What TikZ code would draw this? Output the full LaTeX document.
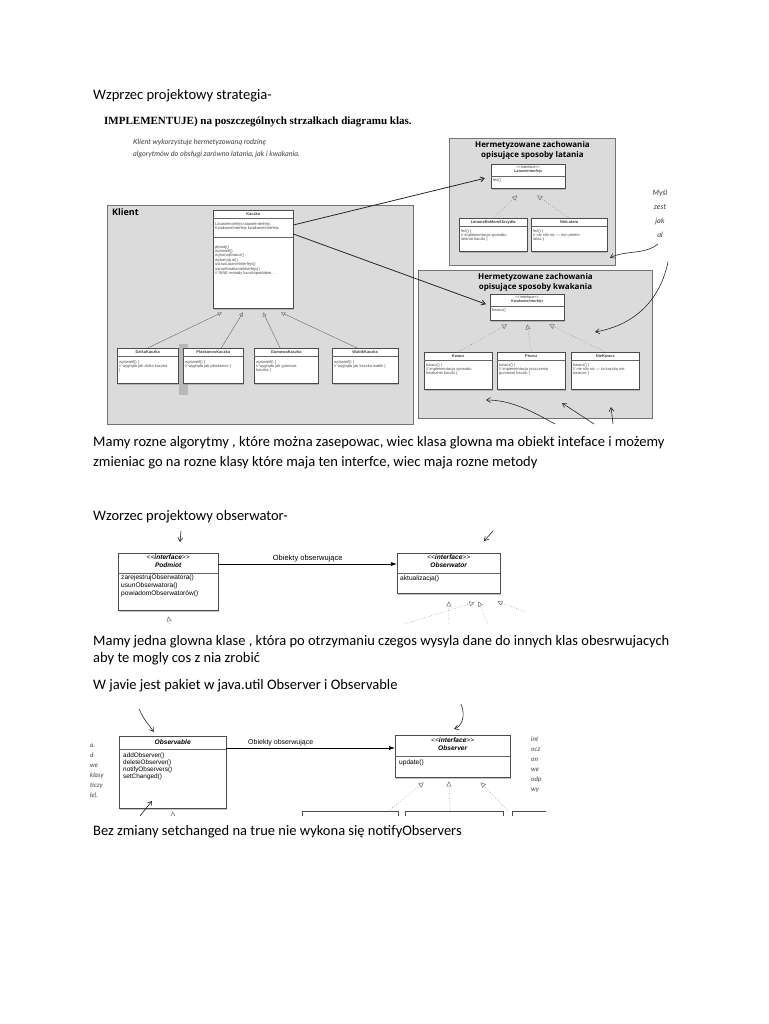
\documentclass[tikz,border=0pt]{standalone}
\usepackage{fontspec}
\setmainfont{Carlito}
\newfontfamily\umlfont{Liberation Sans}
\newfontfamily\tytulfont{Open Sans}
\newfontfamily\rekafont{Lato}
\newfontfamily\drukfont{Liberation Serif}
\usetikzlibrary{positioning,arrows.meta,shadows}

\begin{document}
\begin{tikzpicture}[x=1pt, y=-1pt,
  tekst/.style={anchor=base west, inner sep=0pt, font=\fontsize{14.5}{17}\selectfont},
  panel/.style={draw=black!55, fill=black!14, line width=0.9pt, anchor=north west, inner sep=0pt},
  klasa/.style={draw=black!70, fill=white, line width=0.4pt, anchor=north west, inner sep=0pt,
    drop shadow={shadow xshift=1.2pt, shadow yshift=-1.5pt, fill=black!45}},
  naglowek/.style={inner sep=0pt, font=\umlfont\bfseries\fontsize{4}{4.5}\selectfont, text=black!75},
  drobny/.style={anchor=north west, align=left, inner sep=0pt, font=\umlfont\fontsize{4}{4.4}\selectfont, text=black!70},
  tytul/.style={anchor=north, align=center, inner sep=0pt, font=\tytulfont\bfseries\fontsize{8}{10}\selectfont},
  linia/.style={draw=black!60, line width=0.3pt},
  dziedz/.style={-{Triangle[open, length=4pt, width=4pt]}, black!60, line width=0.4pt},
  kropki/.style={-{Triangle[open, length=5pt, width=5pt]}, black!55, dotted, line width=0.5pt},
  reka/.style={-{Straight Barb[length=4pt, width=5pt]}, line width=0.6pt, black!85},
  pismo/.style={inner sep=0pt, align=left, font=\rekafont\itshape\fontsize{7}{10}\selectfont, text=black!75},
  obsmet/.style={anchor=north west, align=left, inner sep=0pt, font=\umlfont\fontsize{6.6}{7.6}\selectfont},
  obsnag/.style={anchor=north, align=center, inner sep=0pt, font=\umlfont\itshape\fontsize{6.6}{8}\selectfont},
]
\useasboundingbox (0,0) rectangle (768,1024);
\fill[white] (0,0) rectangle (768,1024);

% Page text
\node[tekst] (t1) at (93,100) {Wzprzec projektowy strategia-};
\node[tekst] (t2) at (93,446) {Mamy rozne algorytmy , które można zasepowac, wiec klasa glowna ma obiekt inteface i możemy};
\node[tekst] (t3) at (93,466) {zmieniac go na rozne klasy które maja ten interfce, wiec maja rozne metody};
\node[tekst] (t4) at (93,520) {Wzorzec projektowy obserwator-};
\node[tekst] (t5) at (93,645) {Mamy jedna glowna klase , która po otrzymaniu czegos wysyla dane do innych klas obesrwujacych};
\node[tekst] (t6) at (93,662) {aby te mogly cos z nia zrobić};
\node[tekst] (t7) at (93,689) {W javie jest pakiet w java.util Observer i Observable};
\node[tekst] (t8) at (93,835) {Bez zmiany setchanged na true nie wykona się notifyObservers};

% Strategia
\node[anchor=base west, inner sep=0pt, font=\drukfont\bfseries\fontsize{11}{12}\selectfont] (impl) at (104,125) {IMPLEMENTUJE) na poszczególnych strzałkach diagramu klas.};
\node[pismo, anchor=north west, font=\rekafont\itshape\fontsize{7.3}{11.5}\selectfont] (notka) at (133,139) {Klient wykorzystuje hermetyzowaną rodzinę\\algorytmów do obsługi zarówno latania, jak i kwakania.};

\node[panel, minimum width=306, minimum height=219] (klient) at (107,205) {};
\node[anchor=north west, inner sep=0pt, font=\tytulfont\bfseries\fontsize{9}{10}\selectfont] (klientn) at ([shift={(5pt,-3pt)}]klient.north west) {Klient};
\fill[black!28] (179,344) rectangle (188,395);

\node[klasa, minimum width=80, minimum height=98] (kaczka) at (213,210) {};
\node[naglowek] (kaczkan) at ([yshift=-4pt]kaczka.north) {Kaczka};
\draw[linia] ([yshift=-8pt]kaczka.north west) -- ([yshift=-8pt]kaczka.north east);
\node[drobny] (kaczkap) at ([shift={(2pt,-12pt)}]kaczka.north west) {LatanieInterfejs latanieInterfejs;\\KwakanieInterfejs kwakanieInterfejs};
\draw[linia] ([yshift=-27pt]kaczka.north west) -- ([yshift=-27pt]kaczka.north east);
\node[drobny] (kaczkam) at ([shift={(2pt,-35pt)}]kaczka.north west) {pływaj()\\wyświetl()\\wykonajKwacz()\\wykonajLot()\\ustawLatanieInterfejs()\\ustawKwakanieInterfejs()\\// INNE metody kaczkopodobne...};

\foreach \nazwa/\x/\w/\dx/\cel/\opis [count=\i] in {
  DzikaKaczka/117/61/0/9/{wyświetl() \{\\// wygląda jak dzika kaczka\\\}},
  PlaskonosKaczka/183/60/8/30/{wyświetl() \{\\// wygląda jak płaskonos \}},
  GumowaKaczka/254/64/-6/50/{wyświetl() \{\\// wygląda jak gumowa\\kaczka \}},
  WabikKaczka/332/66/-8/68/{wyświetl() \{\\// wygląda jak kaczka wabik \}}}
{
  \node[klasa, minimum width=\w, minimum height=35] (k\i) at (\x,348) {};
  \node[naglowek] (kn\i) at ([yshift=-4pt]k\i.north) {\nazwa};
  \draw[linia] ([yshift=-8pt]k\i.north west) -- ([yshift=-8pt]k\i.north east);
  \node[drobny] (kt\i) at ([shift={(2pt,-12pt)}]k\i.north west) {\opis};
  \draw[dziedz] ([xshift=\dx pt]k\i.north) -- ([shift={(\cel pt,-4pt)}]kaczka.south west);
}

% Latanie
\node[panel, minimum width=166, minimum height=127] (latanie) at (449,138) {};
\node[tytul] (latanien) at ([yshift=-3pt]latanie.north) {Hermetyzowane zachowania\\opisujące sposoby latania};
\node[klasa, minimum width=74, minimum height=24] (latif) at (491,164) {};
\node[naglowek, align=center, font=\umlfont\fontsize{3.8}{4.5}\selectfont, anchor=north] (latifn) at ([yshift=-1.5pt]latif.north) {<{}<interface>{}>\\\textbf{\textit{LatanieInterfejs}}};
\draw[linia] ([yshift=-12pt]latif.north west) -- ([yshift=-12pt]latif.north east);
\node[drobny] (latift) at ([shift={(2pt,-14pt)}]latif.north west) {leć()};
\foreach \nazwa/\x/\w/\cel/\opis [count=\i] in {
  LatanieBoMamSkrzydła/459/68/-11/{leć() \{\\// implementacja sposobu\\latania kaczki \}},
  NieLatam/531/76/9/{leć() \{\\// nie rób nic — nie umiem\\latać \}}}
{
  \node[klasa, minimum width=\w, minimum height=33] (l\i) at (\x,218) {};
  \node[naglowek] (ln\i) at ([yshift=-4pt]l\i.north) {\nazwa};
  \draw[linia] ([yshift=-8pt]l\i.north west) -- ([yshift=-8pt]l\i.north east);
  \node[drobny] (lt\i) at ([shift={(2pt,-11pt)}]l\i.north west) {\opis};
  \draw[kropki] (l\i.north) -- ([shift={(\cel pt,-7pt)}]latif.south);
}

% Kwakanie
\node[panel, minimum width=234, minimum height=148] (kwakanie) at (418,270) {};
\node[tytul] (kwakanien) at ([yshift=-3pt]kwakanie.north) {Hermetyzowane zachowania\\opisujące sposoby kwakania};
\node[klasa, minimum width=74, minimum height=26] (kwif) at (490,294) {};
\node[naglowek, align=center, font=\umlfont\fontsize{3.8}{4.5}\selectfont, anchor=north] (kwifn) at ([yshift=-1.5pt]kwif.north) {<{}<interface>{}>\\\textbf{\textit{KwakanieInterfejs}}};
\draw[linia] ([yshift=-12pt]kwif.north west) -- ([yshift=-12pt]kwif.north east);
\node[drobny] (kwift) at ([shift={(2pt,-14pt)}]kwif.north west) {kwacz()};
\foreach \nazwa/\x/\cel/\opis [count=\i] in {
  Kwacz/424/-20/{kwacz() \{\\// implementacja sposobu\\kwakania kaczki \}},
  Piszcz/497/0/{kwacz() \{\\// implementacja piszczenia\\gumowej kaczki \}},
  NieKwacz/571/22/{kwacz() \{\\// nie rób nic — ta kaczka nie\\kwacze \}}}
{
  \node[klasa, minimum width=68, minimum height=37] (w\i) at (\x,352) {};
  \node[naglowek] (wn\i) at ([yshift=-4pt]w\i.north) {\nazwa};
  \draw[linia] ([yshift=-8pt]w\i.north west) -- ([yshift=-8pt]w\i.north east);
  \node[drobny] (wt\i) at ([shift={(2pt,-11pt)}]w\i.north west) {\opis};
  \draw[kropki] (w\i.north) -- ([shift={(\cel pt,-4pt)}]kwif.south);
}

% Kaczka -> interfejsy
\draw[reka, line width=0.8pt] ([yshift=-15pt]kaczka.north east) -- ([shift={(-6pt,-2pt)}]latif.west);
\draw[reka, line width=0.8pt] ([yshift=-24pt]kaczka.north east) -- ([shift={(-4pt,3pt)}]kwif.west);

% Dopiski odreczne
\node[pismo, align=center, font=\rekafont\itshape\fontsize{7.5}{14}\selectfont] (mysl) at (660,214) {Myśl\\zest\\jak\\al};
\draw[reka] ([shift={(-2pt,-6pt)}]mysl.south) .. controls (645,255) and (625,250) .. ([shift={(-6pt,8pt)}]latanie.south east);
\coordinate (brzeg1) at (668,262);
\coordinate (cel1) at (595,332);
\draw[reka] (brzeg1) .. controls (660,300) and (635,325) .. (cel1);
\coordinate (brzeg2) at (555,424);
\coordinate (cel2) at (486,400);
\draw[reka] (brzeg2) .. controls (530,410) and (510,400) .. (cel2);
\coordinate (brzeg3) at (594,424);
\coordinate (cel3) at (562,403);
\draw[reka] (brzeg3) -- (cel3);
\coordinate (brzeg4) at (613,424);
\coordinate (cel4) at (611,407);
\draw[reka] (brzeg4) -- (cel4);

% Obserwator
\coordinate (znak1a) at (181,531);
\coordinate (znak1b) at (180,542);
\draw[reka] (znak1a) -- (znak1b);
\coordinate (znak2a) at (493,531);
\coordinate (znak2b) at (484,541);
\draw[reka] (znak2a) -- (znak2b);
\node[klasa, minimum width=100, minimum height=57] (podmiot) at (118,553) {};
\node[obsnag] (podmiotn) at ([yshift=-2pt]podmiot.north) {<{}<\textbf{interface}>{}>\\\textbf{Podmiot}};
\draw[linia] ([yshift=-20pt]podmiot.north west) -- ([yshift=-20pt]podmiot.north east);
\node[obsmet] (podmiott) at ([shift={(3pt,-22pt)}]podmiot.north west) {zarejestrujObserwatora()\\usunObserwatora()\\powiadomObserwatorów()};
\node[klasa, minimum width=103, minimum height=40] (obserwator) at (397,553) {};
\node[obsnag] (obserwatorn) at ([yshift=-2pt]obserwator.north) {<{}<\textbf{interface}>{}>\\\textbf{Obserwator}};
\draw[linia] ([yshift=-20pt]obserwator.north west) -- ([yshift=-20pt]obserwator.north east);
\node[obsmet] (obserwatort) at ([shift={(3pt,-23pt)}]obserwator.north west) {aktualizacja()};
\draw[-{Latex[length=6pt, width=4pt]}, line width=0.7pt] ([yshift=-11pt]podmiot.north east) -- ([yshift=-11pt]obserwator.north west)
  node[midway, above=2pt, inner sep=0pt, font=\umlfont\fontsize{7.5}{8}\selectfont] (etyk1) {Obiekty obserwujące};
\begin{scope}
  \clip (110,530) rectangle (525,623);
  \coordinate (d0) at (170,626);
  \draw[kropki] (d0) -- ([yshift=-6pt]podmiot.south);
  \coordinate (d1) at (398,626);
  \coordinate (d2) at (449,626);
  \coordinate (d3) at (489,626);
  \coordinate (d4) at (526,612);
  \draw[kropki] (d1) -- ([shift={(-26pt,-9pt)}]obserwator.south east);
  \draw[kropki] (d2) -- ([shift={(0pt,-8pt)}]obserwator.south);
  \draw[kropki] (d3) -- ([shift={(-22pt,-8pt)}]obserwator.south east);
  \draw[kropki] (d4) -- ([shift={(-3pt,-8pt)}]obserwator.south east);
\end{scope}

% Observable
\coordinate (znak3a) at (139,709);
\coordinate (znak3b) at (154,732);
\draw[reka] (znak3a) .. controls (145,722) and (150,726) .. (znak3b);
\coordinate (znak4a) at (461,704);
\coordinate (znak4b) at (454,729);
\draw[reka] (znak4a) .. controls (466,716) and (462,726) .. (znak4b);
\node[pismo, anchor=north west, font=\rekafont\itshape\fontsize{6.5}{10}\selectfont] (margl) at (90,744) {a.\\d\\we\\klasy\\ticzy\\le).};
\node[pismo, anchor=north west, font=\rekafont\itshape\fontsize{6.5}{10}\selectfont] (margp) at (531,737) {int\\ocz\\on\\we\\odp\\wy};
\node[klasa, minimum width=107, minimum height=72] (observable) at (119,736) {};
\node[obsnag] (observablen) at ([yshift=-4pt]observable.north) {\textbf{Observable}};
\draw[linia] ([yshift=-13pt]observable.north west) -- ([yshift=-13pt]observable.north east);
\node[obsmet, font=\umlfont\fontsize{6.4}{7}\selectfont] (observablet) at ([shift={(4pt,-17pt)}]observable.north west) {addObserver()\\deleteObserver()\\notifyObservers()\\setChanged()};
\node[klasa, minimum width=115, minimum height=42] (observer) at (395,735) {};
\node[obsnag] (observern) at ([yshift=-3pt]observer.north) {<{}<\textbf{interface}>{}>\\\textbf{Observer}};
\draw[linia] ([yshift=-21pt]observer.north west) -- ([yshift=-21pt]observer.north east);
\node[obsmet] (observert) at ([shift={(4pt,-25pt)}]observer.north west) {update()};
\draw[-{Latex[length=6pt, width=4pt]}, line width=0.7pt] ([yshift=-12pt]observable.north east) -- ([yshift=-13pt]observer.north west)
  node[midway, above=2pt, inner sep=0pt, xshift=-30pt, font=\umlfont\fontsize{7}{8}\selectfont] (etyk2) {Obiekty obserwujące};
\begin{scope}
  \clip (88,700) rectangle (546,815);
  \node[klasa, minimum width=96, minimum height=14] (ob1) at (302,811) {};
  \node[klasa, minimum width=98, minimum height=14] (ob2) at (405,811) {};
  \node[klasa, minimum width=60, minimum height=14] (ob3) at (512,811) {};
  \draw[kropki] ([xshift=-10pt]ob1.north east) -- ([shift={(-29pt,-5pt)}]observer.south);
  \draw[kropki] ([xshift=-4pt]ob2.north) -- ([shift={(-4pt,-4pt)}]observer.south);
  \draw[kropki] ([xshift=-4pt]ob3.north west) -- ([shift={(28pt,-5pt)}]observer.south);
  \coordinate (d5) at (173,818);
  \draw[kropki] (d5) -- ([yshift=-3pt]observable.south);
  \coordinate (znak5a) at (140,816);
  \coordinate (znak5b) at (152,801);
  \draw[reka] (znak5a) -- (znak5b);
\end{scope}
\end{tikzpicture}
\end{document}
